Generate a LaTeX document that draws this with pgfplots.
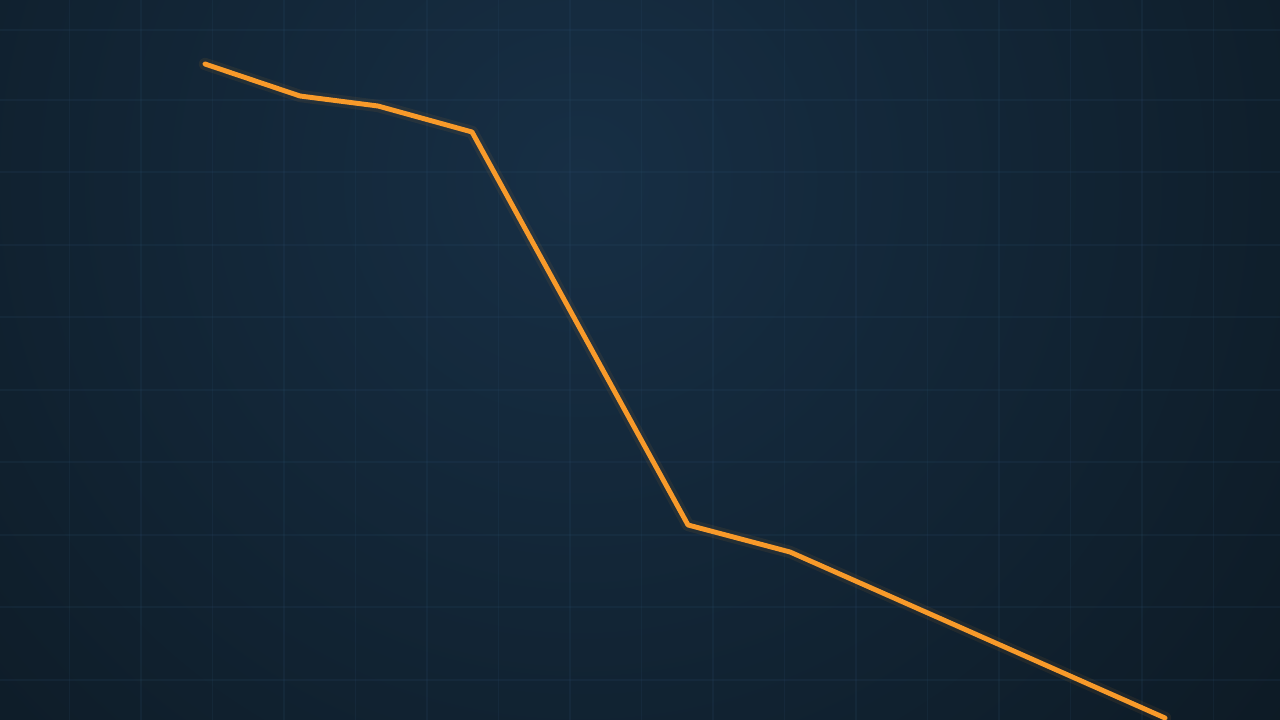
\documentclass[border=0pt]{standalone}
\usepackage{pgfplots}
\pgfplotsset{compat=1.18}
\definecolor{bgouter}{HTML}{091218}
\definecolor{bginner}{HTML}{172F45}
\definecolor{gridc}{HTML}{2C5070}
\definecolor{lineor}{HTML}{F89A2A}

\begin{document}
\begin{tikzpicture}
\useasboundingbox (0,0) rectangle (12.8,7.2);
\fill[bgouter] (0,0) rectangle (12.8,7.2);
\begin{scope}
\clip (0,0) rectangle (12.8,7.2);
\shade[inner color=bginner, outer color=bgouter] (5.8,5.4) circle (12.5cm);
\end{scope}
\begin{axis}[
scale only axis,
width=12.8cm, height=7.2cm,
xmin=0, xmax=1280, ymin=0, ymax=720,
axis line style={draw=none},
tick style={draw=none},
xticklabels={}, yticklabels={},
xtick={69.5,141,212.5,284,355.5,427,498.5,570,641.5,713,784.5,856,927.5,999,1070.5,1142,1213.5},
ytick={40,113,185,258,330,403,475,548,620,690},
grid=major,
major grid style={gridc, line width=0.4pt, opacity=0.15},
]
% glow
\addplot[lineor, line width=3.5pt, opacity=0.08, line join=round, line cap=round] coordinates {
(205,656) (300,624) (378,614) (472,588) (688,195) (790,168) (1165,2)};
\addplot[lineor, line width=1.4pt, line join=round, line cap=round] coordinates {
(205,656) (300,624) (378,614) (472,588) (688,195) (790,168) (1165,2)};
\end{axis}
\end{tikzpicture}
\end{document}
